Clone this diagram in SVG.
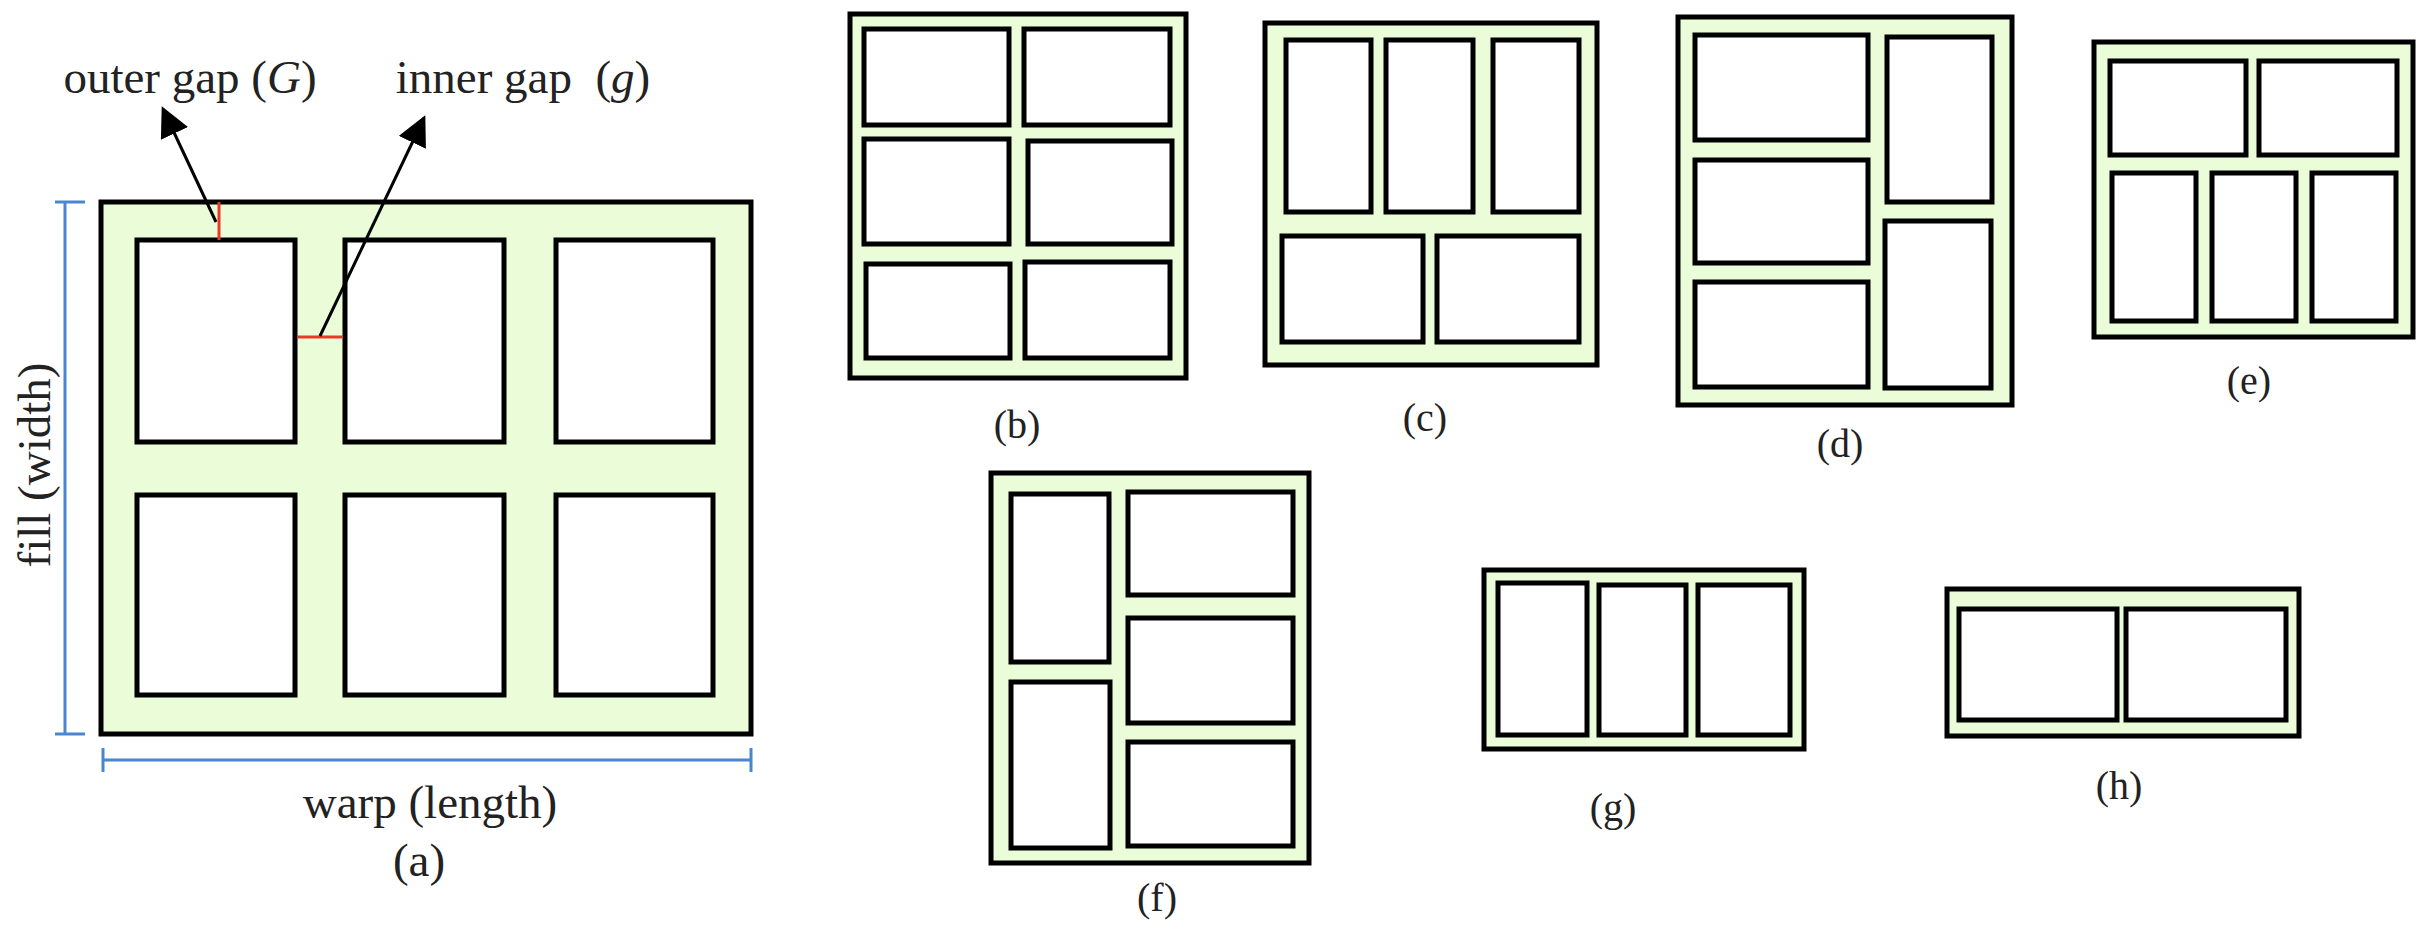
<svg xmlns="http://www.w3.org/2000/svg" width="2432" height="932" viewBox="0 0 2432 932">
<style>
.o{fill:#ebfcd9;stroke:#000;stroke-width:5}
.i{fill:#fff;stroke:#000;stroke-width:5}
.t{font-family:"Liberation Serif",serif;font-size:40px;fill:#222;text-anchor:middle}
.L{font-size:47px}
.b{stroke:#4a86d0;stroke-width:3;fill:none}
.r{stroke:#e8392a;stroke-width:3}
</style>
<defs><marker id="ah" viewBox="0 0 10 10" refX="9" refY="5" markerWidth="9" markerHeight="9" markerUnits="userSpaceOnUse" orient="auto"><path d="M0,0L10,5L0,10z" fill="#000"/></marker>
<marker id="ah2" viewBox="0 0 10 10" refX="9" refY="5" markerWidth="10" markerHeight="10" orient="auto"><path d="M0,0L10,5L0,10z" fill="#000"/></marker></defs>
<g id="a">
<rect class="o" x="101" y="202" width="650" height="532"/>
<rect class="i" x="137" y="240" width="158" height="202"/>
<rect class="i" x="345" y="240" width="159" height="202"/>
<rect class="i" x="556" y="240" width="157" height="202"/>
<rect class="i" x="137" y="495" width="158" height="200"/>
<rect class="i" x="345" y="495" width="159" height="200"/>
<rect class="i" x="556" y="495" width="157" height="200"/>
<line class="r" x1="219" y1="202" x2="219" y2="240"/>
<line class="r" x1="297" y1="337" x2="343" y2="337"/>
<path class="b" d="M65,202V734M55,202H85M55,734H85"/>
<path class="b" d="M103,760H751M103,748V772M751,748V772"/>
<text class="t L" x="190" y="93">outer gap (<tspan font-style="italic">G</tspan>)</text>
<text class="t L" x="523" y="93">inner gap&#160;&#160;(<tspan font-style="italic">g</tspan>)</text>
<text class="t L" transform="translate(50,465) rotate(-90)">fill (width)</text>
<text class="t L" x="430" y="818">warp (length)</text>
<text class="t L" x="419" y="876">(a)</text>
</g>
<g id="connectors">
<line x1="216" y1="222" x2="163" y2="109" stroke="#000" stroke-width="3" marker-end="url(#ah2)"/>
<line x1="320" y1="336" x2="424" y2="118" stroke="#000" stroke-width="3" marker-end="url(#ah2)"/>
</g>
<g id="b">
<rect class="o" x="850" y="14" width="336" height="364"/>
<rect class="i" x="864" y="29" width="145" height="96"/>
<rect class="i" x="1024" y="29" width="146" height="96"/>
<rect class="i" x="864" y="139" width="145" height="105"/>
<rect class="i" x="1028" y="141" width="144" height="103"/>
<rect class="i" x="866" y="264" width="144" height="94"/>
<rect class="i" x="1025" y="262" width="145" height="96"/>
<text class="t" x="1017" y="438">(b)</text>
</g>
<g id="c">
<rect class="o" x="1265" y="23" width="332" height="342"/>
<rect class="i" x="1286" y="40" width="85" height="172"/>
<rect class="i" x="1386" y="40" width="87" height="172"/>
<rect class="i" x="1493" y="40" width="86" height="172"/>
<rect class="i" x="1282" y="236" width="141" height="106"/>
<rect class="i" x="1437" y="236" width="142" height="106"/>
<text class="t" x="1425" y="431">(c)</text>
</g>
<g id="d">
<rect class="o" x="1678" y="17" width="334" height="388"/>
<rect class="i" x="1695" y="35" width="173" height="105"/>
<rect class="i" x="1695" y="160" width="173" height="103"/>
<rect class="i" x="1695" y="282" width="173" height="105"/>
<rect class="i" x="1887" y="37" width="105" height="165"/>
<rect class="i" x="1885" y="221" width="106" height="167"/>
<text class="t" x="1840" y="457">(d)</text>
</g>
<g id="e">
<rect class="o" x="2094" y="42" width="319" height="295"/>
<rect class="i" x="2110" y="61" width="136" height="94"/>
<rect class="i" x="2259" y="61" width="138" height="94"/>
<rect class="i" x="2112" y="173" width="84" height="148"/>
<rect class="i" x="2212" y="173" width="84" height="148"/>
<rect class="i" x="2312" y="173" width="84" height="148"/>
<text class="t" x="2249" y="394">(e)</text>
</g>
<g id="f">
<rect class="o" x="991" y="473" width="318" height="390"/>
<rect class="i" x="1011" y="494" width="98" height="168"/>
<rect class="i" x="1011" y="682" width="99" height="166"/>
<rect class="i" x="1128" y="492" width="165" height="103"/>
<rect class="i" x="1128" y="618" width="165" height="105"/>
<rect class="i" x="1128" y="742" width="165" height="104"/>
<text class="t" x="1157" y="911">(f)</text>
</g>
<g id="g">
<rect class="o" x="1484" y="570" width="320" height="179"/>
<rect class="i" x="1498" y="583" width="89" height="152"/>
<rect class="i" x="1599" y="585" width="87" height="150"/>
<rect class="i" x="1698" y="585" width="92" height="150"/>
<text class="t" x="1613" y="821">(g)</text>
</g>
<g id="h">
<rect class="o" x="1947" y="589" width="352" height="147"/>
<rect class="i" x="1959" y="609" width="158" height="111"/>
<rect class="i" x="2126" y="609" width="160" height="111"/>
<text class="t" x="2119" y="799">(h)</text>
</g>
</svg>
